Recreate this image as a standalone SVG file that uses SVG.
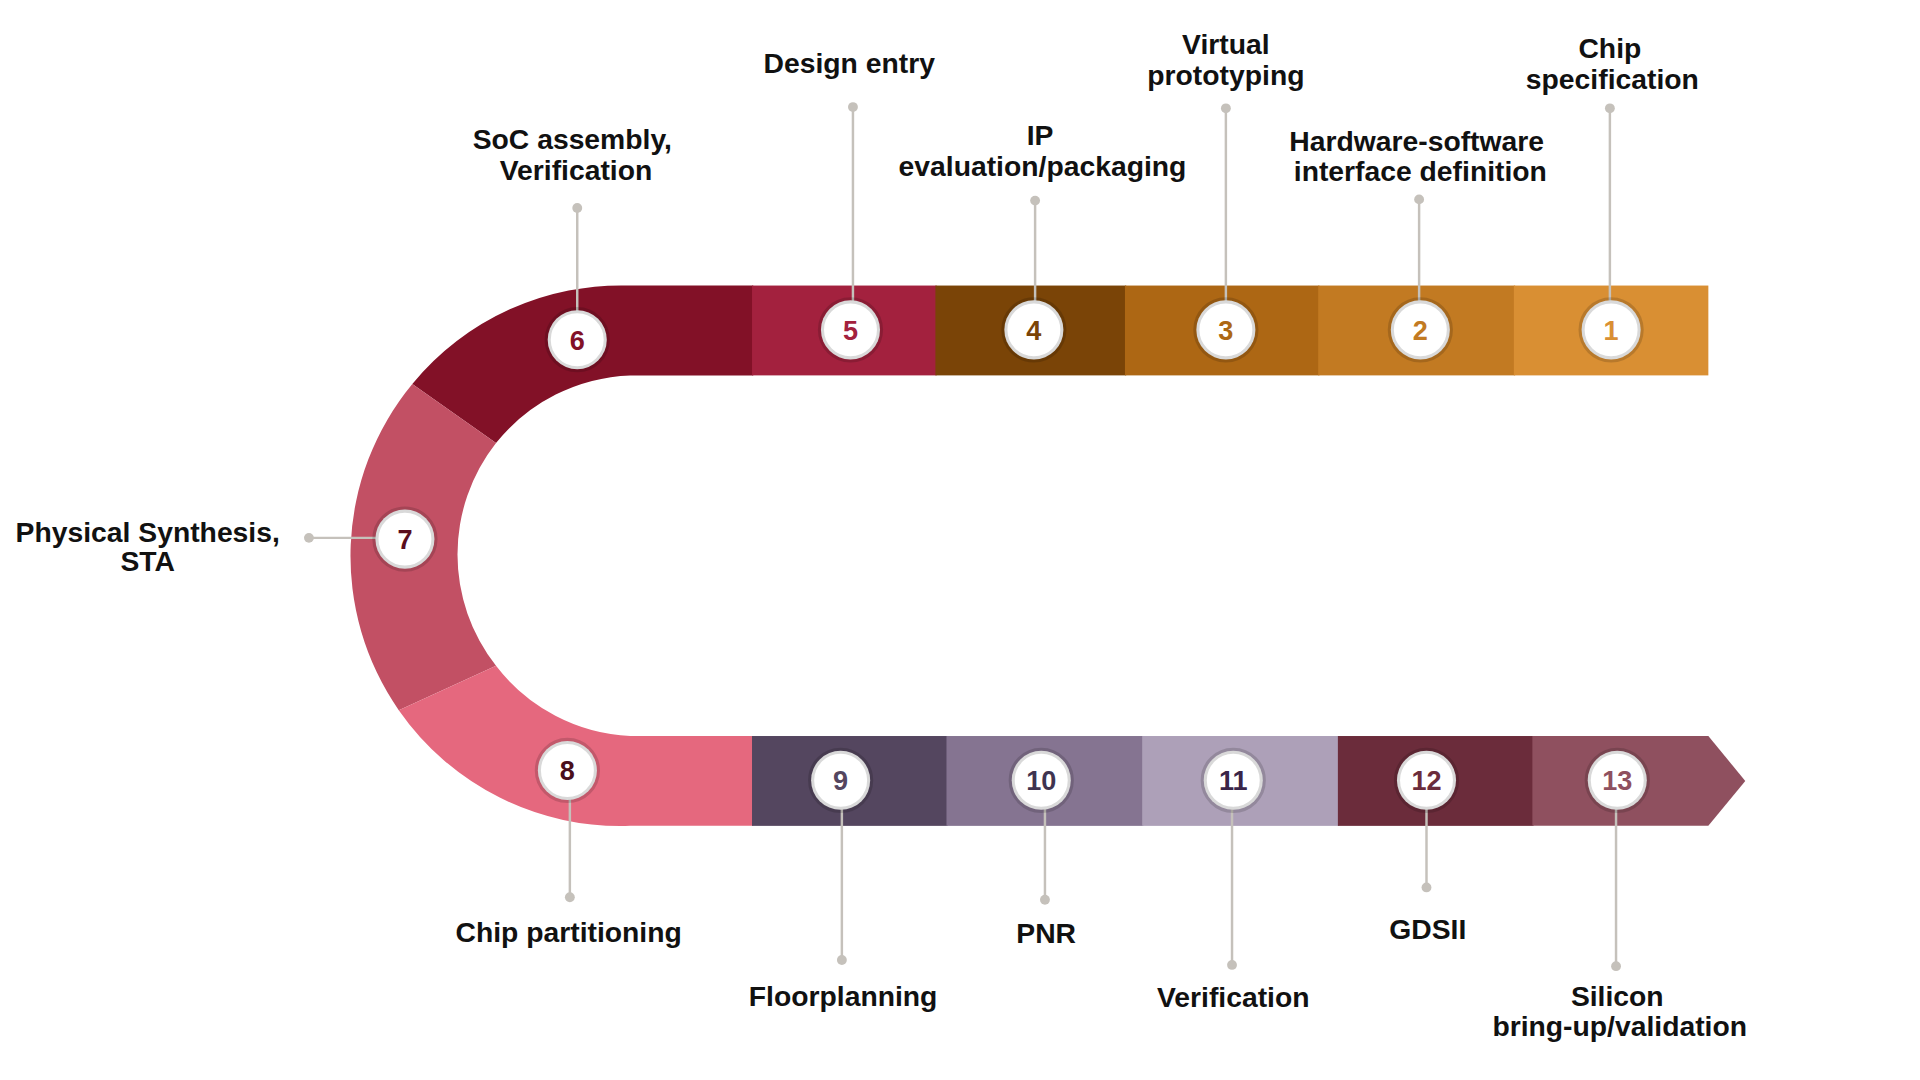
<svg xmlns="http://www.w3.org/2000/svg" width="1920" height="1080" viewBox="0 0 1920 1080">
<style>
.l{font-family:"Liberation Sans",Arial,sans-serif;font-weight:bold;font-size:23px;fill:#111;text-anchor:middle}
.n{font-family:"Liberation Sans",Arial,sans-serif;font-weight:bold;font-size:22px;text-anchor:middle}
.ld{stroke:#c5c1bb;stroke-width:2;fill:none}
.dt{fill:#c5c1bb}
.c{fill:#fff;stroke:rgba(0,0,0,0.15);stroke-width:5}
</style>
<rect width="1920" height="1080" fill="#fff"/>
<g transform="scale(1.2308)">
<g id="band">
<path d="M335,312 A219.5,219.5 0 0 1 512,232 L612,232 L612,305 L512,305 A146.5,146.5 0 0 0 403,360 Z" fill="#821127"/>
<path d="M335,312 A219.5,219.5 0 0 0 324,577 L403,541 A146.5,146.5 0 0 1 403,360 Z" fill="#c25064"/>
<path d="M324,577 A219.5,219.5 0 0 0 512,671 L612,671 L612,598 L512,598 A146.5,146.5 0 0 1 403,541 Z" fill="#e5687e"/>
<rect x="611" y="232" width="150" height="73" fill="#a3213e"/>
<rect x="760" y="232" width="155" height="73" fill="#7a4407"/>
<rect x="914" y="232" width="158" height="73" fill="#ad6714"/>
<rect x="1071" y="232" width="160" height="73" fill="#c27a22"/>
<rect x="1230" y="232" width="158" height="73" fill="#d98f33"/>
<rect x="611" y="598" width="159" height="73" fill="#54465f"/>
<rect x="769" y="598" width="160" height="73" fill="#857491"/>
<rect x="928" y="598" width="160" height="73" fill="#ada0b8"/>
<rect x="1087" y="598" width="159" height="73" fill="#6b2c3b"/>
<path d="M1245,598 L1388,598 L1418,634.5 L1388,671 L1245,671 Z" fill="#8f505f"/>
</g>
<g id="connectors">
<line class="ld" x1="469" y1="169" x2="469" y2="253"/><circle class="dt" cx="469" cy="169" r="4"/>
<line class="ld" x1="693" y1="87" x2="693" y2="245"/><circle class="dt" cx="693" cy="87" r="4"/>
<line class="ld" x1="841" y1="163" x2="841" y2="245"/><circle class="dt" cx="841" cy="163" r="4"/>
<line class="ld" x1="996" y1="88" x2="996" y2="245"/><circle class="dt" cx="996" cy="88" r="4"/>
<line class="ld" x1="1153" y1="162" x2="1153" y2="245"/><circle class="dt" cx="1153" cy="162" r="4"/>
<line class="ld" x1="1308" y1="88" x2="1308" y2="245"/><circle class="dt" cx="1308" cy="88" r="4"/>
<line class="ld" x1="251" y1="437" x2="306" y2="437"/><circle class="dt" cx="251" cy="437" r="4"/>
<line class="ld" x1="463" y1="649" x2="463" y2="729"/><circle class="dt" cx="463" cy="729" r="4"/>
<line class="ld" x1="684" y1="657" x2="684" y2="780"/><circle class="dt" cx="684" cy="780" r="4"/>
<line class="ld" x1="849" y1="657" x2="849" y2="731"/><circle class="dt" cx="849" cy="731" r="4"/>
<line class="ld" x1="1001" y1="657" x2="1001" y2="784"/><circle class="dt" cx="1001" cy="784" r="4"/>
<line class="ld" x1="1159" y1="657" x2="1159" y2="721"/><circle class="dt" cx="1159" cy="721" r="4"/>
<line class="ld" x1="1313" y1="657" x2="1313" y2="785"/><circle class="dt" cx="1313" cy="785" r="4"/>
</g>
<g id="n1"><circle class="c" cx="1309" cy="268" r="24"/><text class="n" x="1309" y="276" fill="#d98f33">1</text><text class="l" x="1308" y="47">Chip</text><text class="l" x="1310" y="72">specification</text></g>
<g id="n2"><circle class="c" cx="1154" cy="268" r="24"/><text class="n" x="1154" y="276" fill="#c27a22">2</text><text class="l" x="1151" y="123">Hardware-software</text><text class="l" x="1154" y="147">interface definition</text></g>
<g id="n3"><circle class="c" cx="996" cy="268" r="24"/><text class="n" x="996" y="276" fill="#ad6714">3</text><text class="l" x="996" y="44">Virtual</text><text class="l" x="996" y="69">prototyping</text></g>
<g id="n4"><circle class="c" cx="840" cy="268" r="24"/><text class="n" x="840" y="276" fill="#7a4407">4</text><text class="l" x="845" y="118">IP</text><text class="l" x="847" y="143">evaluation/packaging</text></g>
<g id="n5"><circle class="c" cx="691" cy="268" r="24"/><text class="n" x="691" y="276" fill="#a3213e">5</text><text class="l" x="690" y="59">Design entry</text></g>
<g id="n6"><circle class="c" cx="469" cy="276" r="24"/><text class="n" x="469" y="284" fill="#821127">6</text><text class="l" x="465" y="121">SoC assembly,</text><text class="l" x="468" y="146">Verification</text></g>
<g id="n7"><circle class="c" cx="329" cy="438" r="24"/><text class="n" x="329" y="446" fill="#5a0d1c">7</text><text class="l" x="120" y="440">Physical Synthesis,</text><text class="l" x="120" y="464">STA</text></g>
<g id="n8"><circle class="c" cx="461" cy="626" r="24"/><text class="n" x="461" y="634" fill="#4a0f1c">8</text><text class="l" x="462" y="765">Chip partitioning</text></g>
<g id="n9"><circle class="c" cx="683" cy="634" r="24"/><text class="n" x="683" y="642" fill="#54465f">9</text><text class="l" x="685" y="817">Floorplanning</text></g>
<g id="n10"><circle class="c" cx="846" cy="634" r="24"/><text class="n" x="846" y="642" fill="#3f3450">10</text><text class="l" x="850" y="766">PNR</text></g>
<g id="n11"><circle class="c" cx="1002" cy="634" r="24"/><text class="n" x="1002" y="642" fill="#3a2548">11</text><text class="l" x="1002" y="818">Verification</text></g>
<g id="n12"><circle class="c" cx="1159" cy="634" r="24"/><text class="n" x="1159" y="642" fill="#6b2c3b">12</text><text class="l" x="1160" y="763">GDSII</text></g>
<g id="n13"><circle class="c" cx="1314" cy="634" r="24"/><text class="n" x="1314" y="642" fill="#8f505f">13</text><text class="l" x="1314" y="817">Silicon</text><text class="l" x="1316" y="842">bring-up/validation</text></g>
</g>
</svg>
